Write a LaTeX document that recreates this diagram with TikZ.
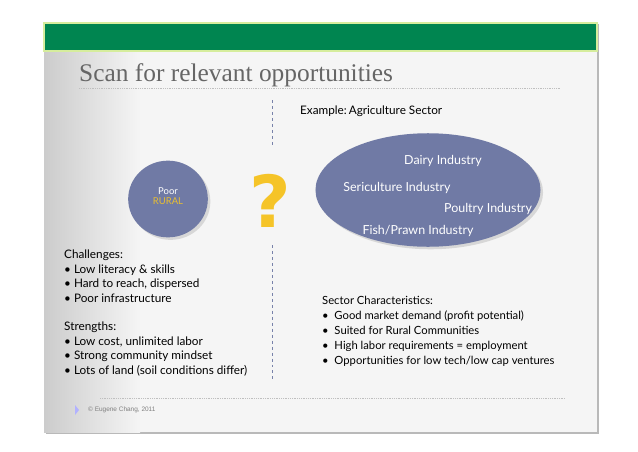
\documentclass[tikz,border=0pt]{standalone}
\usepackage{fontspec}
\setmainfont{Lato}
\newfontfamily\titlefont{Liberation Serif}
\newfontfamily\qfont{DejaVu Sans}
\usetikzlibrary{shadows,shapes.geometric}
\definecolor{slidegreen}{RGB}{0,133,80}
\definecolor{bubble}{RGB}{112,122,165}
\definecolor{qyellow}{RGB}{245,196,40}
\definecolor{rur}{RGB}{232,190,50}
\definecolor{vcol}{RGB}{120,130,170}
\tikzset{
  body/.style={anchor=west,font=\fontsize{11.8}{14.6}\selectfont,inner sep=0pt,align=left},
  bubtext/.style={text=white,font=\fontsize{12.5}{13}\selectfont,inner sep=0pt},
  vline/.style={vcol,dashed,line width=0.9pt},
  dotline/.style={gray!50,densely dotted,line width=0.8pt}
}
\begin{document}
\begin{tikzpicture}[x=0.0353cm,y=-0.0353cm]
\useasboundingbox (0,0) rectangle (638,451);
\fill[white] (0,0) rectangle (638,451);
\fill[gray!55] (46,24) rectangle (599,434);
\fill[gray!8] (44,22) rectangle (597,432);
\shade[left color=gray!40,right color=gray!8] (44,50) rectangle (140,432);
\fill[slidegreen,draw=yellow!60!green!40,line width=1.5pt] (44,23) rectangle (597,51);
\node[anchor=west,inner sep=0pt,text=gray!80!black,font=\titlefont\fontsize{25.5}{28}\selectfont] (title) at (79,75) {Scan for relevant opportunities};
\coordinate (d1) at (79,88); \coordinate (d2) at (560,88);
\draw[dotline] (d1) -- (d2);
\coordinate (v1) at (272,100); \coordinate (v2) at (272,146);
\coordinate (v3) at (272,245); \coordinate (v4) at (272,382);
\draw[vline] (v1) -- (v2); \draw[vline] (v3) -- (v4);
\node[body] (ex) at (300,111) {Example:\,Agriculture Sector};
\node[ellipse,fill=bubble,minimum width=80pt,minimum height=77pt,inner sep=0pt,drop shadow={opacity=0.25}] (poor) at (168,199) {};
\node[bubtext,font=\fontsize{9.5}{11}\selectfont,align=center] (poort) at (168,196) {Poor\\[-1pt]{\color{rur}RURAL}};
\node[text=qyellow,font=\qfont\bfseries\fontsize{72}{72}\selectfont,inner sep=0pt] (q) at (270,201) {?};
\node[ellipse,fill=bubble,minimum width=226pt,minimum height=114pt,inner sep=0pt,drop shadow={opacity=0.25}] (ag) at (428,190) {};
\node[bubtext] (dairy) at (443,161) {Dairy Industry};
\node[bubtext] (seri) at (397,188) {Sericulture Industry};
\node[bubtext] (poul) at (488,209) {Poultry Industry};
\node[bubtext] (fish) at (418,231) {Fish/Prawn Industry};
\node[body] (chal) at (64,313) {Challenges:\\
\textbullet\ Low literacy \& skills\\
\textbullet\ Hard to reach, dispersed\\
\textbullet\ Poor infrastructure\\[14pt]
Strengths:\\
\textbullet\ Low cost, unlimited labor\\
\textbullet\ Strong community mindset\\
\textbullet\ Lots of land (soil conditions differ)};
\node[body,font=\fontsize{11.3}{15}\selectfont] (sect) at (322,331) {Sector Characteristics:\\
\textbullet\ \ Good market demand (profit potential)\\
\textbullet\ \ Suited for Rural Communities\\
\textbullet\ \ High labor requirements = employment\\
\textbullet\ \ Opportunities for low tech/low cap ventures};
\coordinate (b1) at (100,398); \coordinate (b2) at (565,398);
\draw[dotline] (b1) -- (b2);
\fill[blue!30] (75,405) -- (79,410) -- (75,415) -- cycle;
\node[anchor=west,inner sep=0pt,text=gray,font=\fontspec{Liberation Sans}\fontsize{6.5}{8}\selectfont] (foot) at (88,410) {\copyright\ Eugene Chang, 2011};
\end{tikzpicture}
\end{document}
